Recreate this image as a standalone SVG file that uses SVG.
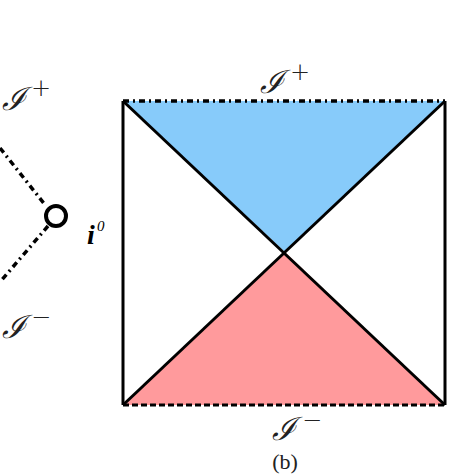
<svg xmlns="http://www.w3.org/2000/svg" width="474" height="474" viewBox="0 0 474 474">
<style>
.lbl{font-family:"DejaVu Serif","Liberation Serif",serif;font-size:32px;fill:#222;font-style:italic}
.sup{font-family:"DejaVu Sans","Liberation Sans",sans-serif;font-size:24px;fill:#222;font-weight:200}
.edge{stroke:#000;stroke-width:3;fill:none}
.dot{stroke:#000;stroke-width:3.5;fill:none;stroke-dasharray:6 4 2 4}
</style>
<rect width="474" height="474" fill="#fff"/>
<g id="regions">
<polygon points="123,101 445,101 285,252" fill="#87cbfa"/>
<polygon points="123,405 445,405 285,252" fill="#ff9a9c"/>
</g>
<g id="connectors">
<line class="edge" x1="123" y1="101" x2="123" y2="405"/>
<line class="edge" x1="445" y1="101" x2="445" y2="405"/>
<line class="edge" x1="123" y1="101" x2="445" y2="405"/>
<line class="edge" x1="445" y1="101" x2="123" y2="405"/>
<line class="dot" x1="123" y1="101" x2="445" y2="101"/>
<line x1="123" y1="405" x2="445" y2="405" stroke="#000" stroke-width="3" stroke-dasharray="6 3"/>
<line class="dot" x1="0" y1="148" x2="46" y2="206"/>
<line class="dot" x1="48" y1="226" x2="0" y2="282"/>
</g>
<g id="i0">
<circle cx="56" cy="216" r="10" fill="#fff" stroke="#000" stroke-width="4"/>
<text x="87" y="244" font-family="Liberation Serif,serif" font-size="28" font-weight="bold" font-style="italic">i</text>
<text x="97" y="231" font-family="Liberation Serif,serif" font-size="15" font-style="italic">0</text>
</g>
<g id="labels">
<text class="lbl" x="2" y="110">ℐ</text><text class="sup" x="31" y="96">+</text>
<text class="lbl" x="2" y="338">ℐ</text><text class="sup" x="31" y="325">−</text>
<text class="lbl" x="260" y="93">ℐ</text><text class="sup" x="290" y="80">+</text>
<text class="lbl" x="272" y="440">ℐ</text><text class="sup" x="302" y="428">−</text>
<text x="285" y="469" text-anchor="middle" font-family="Liberation Serif,serif" font-size="22" fill="#222">(b)</text>
</g>
</svg>
